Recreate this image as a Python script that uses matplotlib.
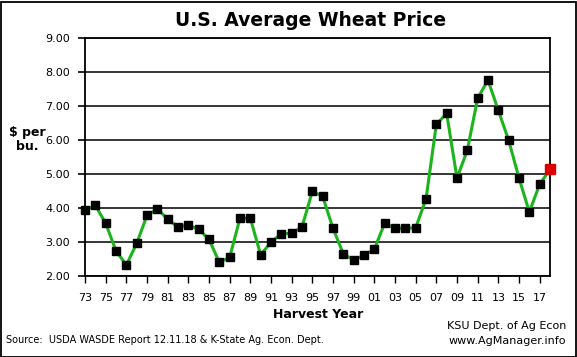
import matplotlib.pyplot as plt
import matplotlib.patches as patches

# harvest years and season-average price ($/bu)
years = list(range(1973, 2019))
prices = [3.93, 4.08, 3.55, 2.74, 2.32, 2.96, 3.78, 3.98, 3.67, 3.44,
          3.50, 3.37, 3.08, 2.40, 2.55, 3.70, 3.70, 2.62, 3.00, 3.24,
          3.26, 3.44, 4.49, 4.34, 3.40, 2.65, 2.47, 2.61, 2.79, 3.55,
          3.40, 3.40, 3.42, 4.26, 6.46, 6.78, 4.88, 5.70, 7.23, 7.76,
          6.87, 5.99, 4.88, 3.88, 4.70, 5.14]
tick_years = list(range(1973, 2018, 2))
tick_labels = ["%02d" % (y % 100) for y in tick_years]
y_ticks = [2, 3, 4, 5, 6, 7, 8, 9]

W, H = 577, 357
fig = plt.figure(figsize=(W / 100, H / 100), dpi=100)
# plot area in pixels: x 85..550, y 38..276
ax = fig.add_axes([85 / W, 1 - 276 / H, (550 - 85) / W, (276 - 38) / H])

ax.set_xlim(1973, 2018)
ax.set_ylim(2, 9)
ax.set_yticks(y_ticks)
ax.set_yticklabels(["%.2f" % v for v in y_ticks], fontsize=8)
ax.set_xticks(tick_years)
ax.set_xticklabels(tick_labels, fontsize=8)
ax.tick_params(axis="y", length=5, width=1.2, pad=6, color="black")
ax.tick_params(axis="x", length=5, width=1, pad=7)
for s in ax.spines.values():
    s.set_linewidth(1.3)
ax.grid(axis="y", color="black", linewidth=1.1)
ax.set_axisbelow(True)

# green line, black squares, red last point
ax.plot(years, prices, color="#1cb41c", linewidth=2.2, clip_on=False, zorder=3)
ax.plot(years[:-1], prices[:-1], "s", color="black", markersize=5.3, clip_on=False, zorder=4)
ax.plot(years[-1], prices[-1], "s", color="#dd0000", markersize=7.5, clip_on=False, zorder=5)

fig.text(311 / W, 1 - 20 / H, "U.S. Average Wheat Price", ha="center", va="center",
         fontsize=13.5, fontweight="bold")
fig.text(27 / W, 1 - 140 / H, "$ per\nbu.", ha="center", va="center",
         fontsize=9, fontweight="bold", linespacing=1.1)
fig.text(318 / W, 1 - 314 / H, "Harvest Year", ha="center", va="center",
         fontsize=9, fontweight="bold")
fig.text(6 / W, 1 - 340 / H, "Source:  USDA WASDE Report 12.11.18 & K-State Ag. Econ. Dept.",
         ha="left", va="center", fontsize=7)
fig.text(566 / W, 1 - 326 / H, "KSU Dept. of Ag Econ", ha="right", va="center", fontsize=8)
fig.text(566 / W, 1 - 341 / H, "www.AgManager.info", ha="right", va="center", fontsize=8)

# outer border
fig.patches.append(patches.Rectangle((0.5 / W, 0.5 / H), (W - 2) / W, (H - 2) / H,
                                     transform=fig.transFigure, fill=False,
                                     edgecolor="black", linewidth=1.3))

fig.savefig("out.png", dpi=100)
